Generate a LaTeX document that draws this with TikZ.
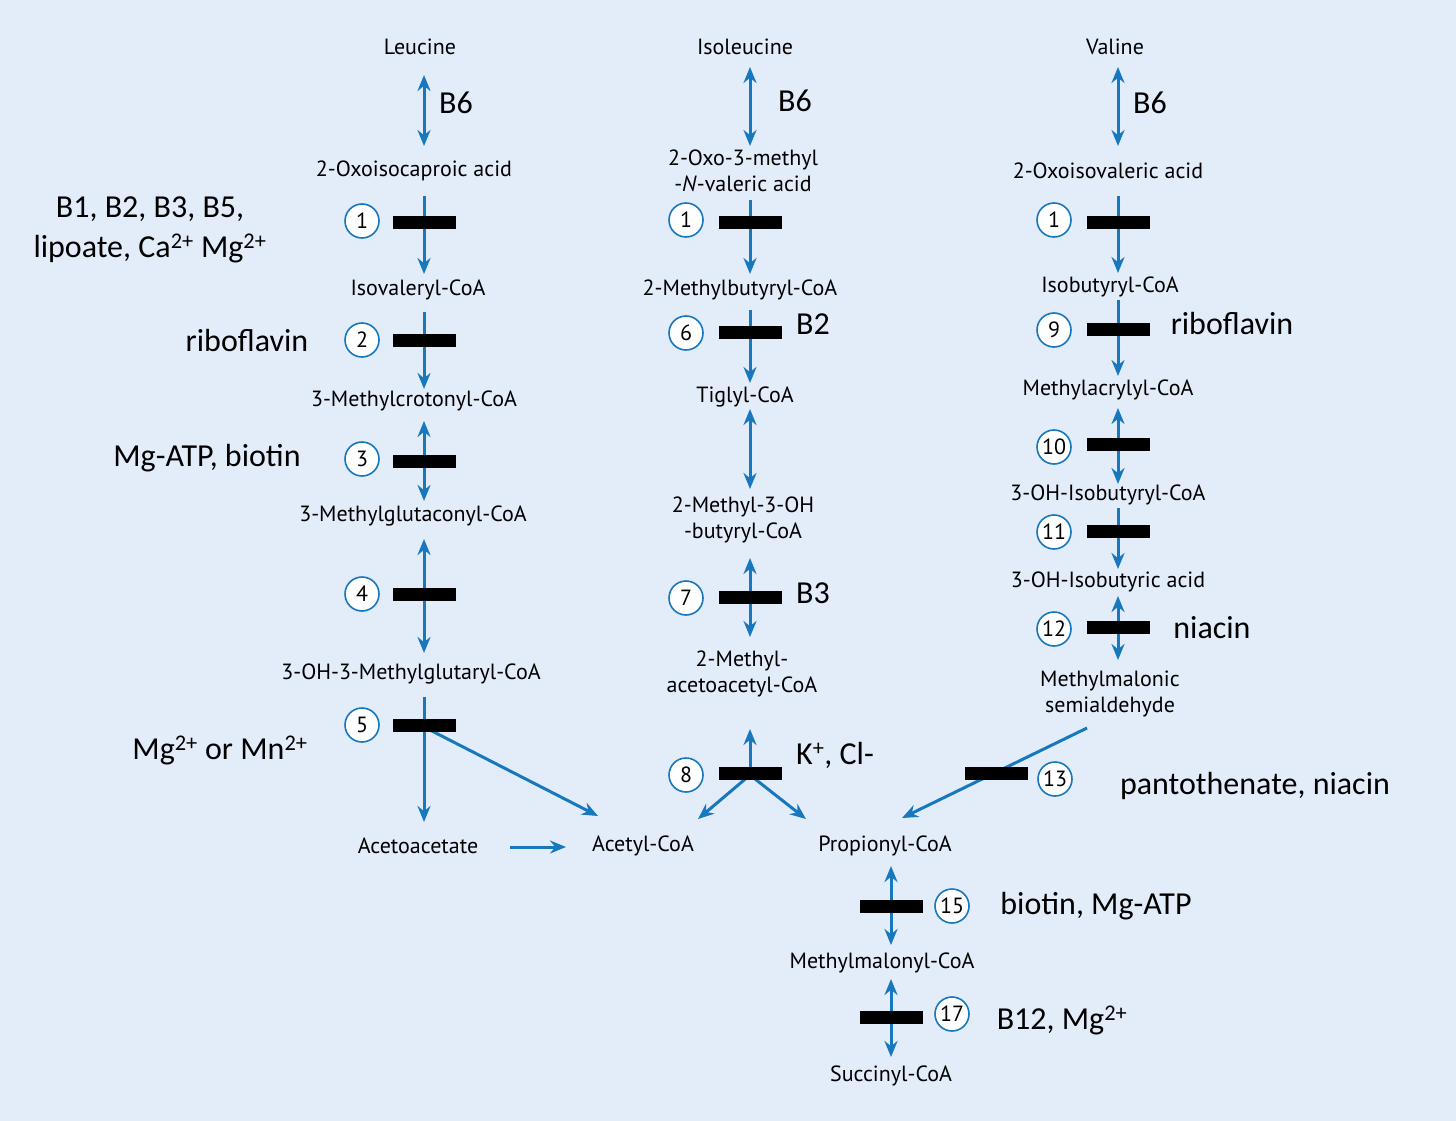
\documentclass[tikz,border=0pt]{standalone}
\usepackage{fontspec}
\setmainfont{PT Sans}
\newfontfamily\labfont{Carlito}
\usetikzlibrary{arrows.meta}
\definecolor{bg}{HTML}{E3ECF9}
\definecolor{ab}{HTML}{1878BE}
\begin{document}
\begin{tikzpicture}[x=1pt,y=-1pt,
 cmp/.style={font=\fontsize{22}{26}\selectfont,align=center,inner sep=2pt},
 lab/.style={font=\labfont\fontsize{32}{36}\selectfont,inner sep=0pt},
 num/.style={circle,draw=ab,line width=1.6pt,fill=white,minimum size=34pt,inner sep=0pt,font=\fontsize{22}{22}\selectfont},
 ar/.style={draw=ab,line width=3pt,-{Stealth[length=16pt,width=13pt]}},
 bi/.style={draw=ab,line width=3pt,{Stealth[length=16pt,width=13pt]}-{Stealth[length=16pt,width=13pt]}},
 bar/.style={fill=black,minimum width=63pt,minimum height=13pt,inner sep=0pt}]
\fill[bg] (0,0) rectangle (1456,1121);
\useasboundingbox (0,0) rectangle (1456,1121);
% compounds
\node[cmp] (leu) at (420,47) {Leucine};
\node[cmp] (ile) at (745,47) {Isoleucine};
\node[cmp] (val) at (1115,47) {Valine};
\node[cmp] (oic) at (414,171) {2-Oxoisocaproic acid};
\node[cmp] (omv) at (743,171) {2-Oxo-3-methyl\\-\textit{N}-valeric acid};
\node[cmp] (oiv) at (1108,171) {2-Oxoisovaleric acid};
\node[cmp] (ivc) at (418,290) {Isovaleryl-CoA};
\node[cmp] (mbc) at (740,290) {2-Methylbutyryl-CoA};
\node[cmp] (ibc) at (1110,287) {Isobutyryl-CoA};
\node[cmp] (mcc) at (414,401) {3-Methylcrotonyl-CoA};
\node[cmp] (tig) at (745,397) {Tiglyl-CoA};
\node[cmp] (mac) at (1108,390) {Methylacrylyl-CoA};
\node[cmp] (mgc) at (413,516) {3-Methylglutaconyl-CoA};
\node[cmp] (mhb) at (743,520) {2-Methyl-3-OH\\-butyryl-CoA};
\node[cmp] (hib) at (1108,495) {3-OH-Isobutyryl-CoA};
\node[cmp] (hia) at (1108,582) {3-OH-Isobutyric acid};
\node[cmp] (hmg) at (411,674) {3-OH-3-Methylglutaryl-CoA};
\node[cmp] (maa) at (742,674) {2-Methyl-\\acetoacetyl-CoA};
\node[cmp] (mms) at (1110,694) {Methylmalonic\\semialdehyde};
\node[cmp] (aca) at (418,846) {Acetoacetate};
\node[cmp] (acc) at (643,846) {Acetyl-CoA};
\node[cmp] (prc) at (885,846) {Propionyl-CoA};
\node[cmp] (mmc) at (882,963) {Methylmalonyl-CoA};
\node[cmp] (suc) at (891,1076) {Succinyl-CoA};
% arrows Leucine
\coordinate (a1) at (424,75); \coordinate (a2) at (424,146); \draw[bi] (a1) -- (a2);
\coordinate (a3) at (424,196); \coordinate (a4) at (424,274); \draw[ar] (a3) -- (a4);
\coordinate (a5) at (424,312); \coordinate (a6) at (424,389); \draw[ar] (a5) -- (a6);
\coordinate (a7) at (424,421); \coordinate (a8) at (424,501); \draw[bi] (a7) -- (a8);
\coordinate (a9) at (424,539); \coordinate (a10) at (424,653); \draw[bi] (a9) -- (a10);
\coordinate (a11) at (424,697); \coordinate (a12) at (424,822); \draw[ar] (a11) -- (a12);
\coordinate (h1) at (430,730); \coordinate (h2) at (598,816); \draw[ar] (h1) -- (h2);
\coordinate (e1) at (510,847); \coordinate (e2) at (566,847); \draw[ar] (e1) -- (e2);
% Isoleucine
\coordinate (b1) at (750,67); \coordinate (b2) at (750,146); \draw[bi] (b1) -- (b2);
\coordinate (b3) at (750,200); \coordinate (b4) at (750,274); \draw[ar] (b3) -- (b4);
\coordinate (b5) at (750,310); \coordinate (b6) at (750,383); \draw[ar] (b5) -- (b6);
\coordinate (b7) at (750,409); \coordinate (b8) at (750,489); \draw[bi] (b7) -- (b8);
\coordinate (b9) at (750,558); \coordinate (b10) at (750,637); \draw[bi] (b9) -- (b10);
\coordinate (c0) at (750,775); \coordinate (c1) at (750,729); \coordinate (c2) at (698,819); \coordinate (c3) at (806,819);
\draw[ar] (c0) -- (c1); \draw[ar] (c0) -- (c2); \draw[ar] (c0) -- (c3);
% Valine
\coordinate (d1) at (1118,67); \coordinate (d2) at (1118,146); \draw[bi] (d1) -- (d2);
\coordinate (d3) at (1118,196); \coordinate (d4) at (1118,273); \draw[ar] (d3) -- (d4);
\coordinate (d5) at (1118,300); \coordinate (d6) at (1118,376); \draw[ar] (d5) -- (d6);
\coordinate (d7) at (1118,408); \coordinate (d8) at (1118,484); \draw[bi] (d7) -- (d8);
\coordinate (d9) at (1118,508); \coordinate (d10) at (1118,569); \draw[ar] (d9) -- (d10);
\coordinate (d11) at (1118,596); \coordinate (d12) at (1118,660); \draw[bi] (d11) -- (d12);
\coordinate (m1) at (1087,728); \coordinate (m2) at (902,818); \draw[ar] (m1) -- (m2);
% Propionyl
\coordinate (p1) at (891,866); \coordinate (p2) at (891,945); \draw[bi] (p1) -- (p2);
\coordinate (p3) at (891,979); \coordinate (p4) at (891,1057); \draw[bi] (p3) -- (p4);
% bars
\foreach \n/\x/\y in {b1/424/222,b2/424/340,b3/424/461,b4/424/594,b5/424/725,
 b6/750/222,b7/750/332,b8/750/597,b9/750/773,
 b10/1118/222,b11/1118/329,b12/1118/444,b13/1118/531,b14/1118/627,b15/996/773,
 b16/891/906,b17/891/1017}
 \node[bar] (bar\n) at (\x,\y) {};
% circles
\foreach \n/\t/\x/\y in {n1/1/362/221,n2/2/362/340,n3/3/362/459,n4/4/362/594,n5/5/362/725,
 n6/1/686/220,n7/6/686/333,n8/7/686/598,n9/8/686/775,
 n10/1/1054/220,n11/9/1054/330,n12/10/1054/447,n13/11/1054/532,n14/12/1054/629,n15/13/1055/779,
 n16/15/952/906,n17/17/952/1014}
 \node[num] (\n) at (\x,\y) {\t};
% cofactor labels
\node[lab] (l1) at (456,103) {B6};
\node[lab] (l2) at (795,101) {B6};
\node[lab] (l3) at (1150,103) {B6};
\node[lab,align=center] (l4) at (150,230) {B1, B2, B3, B5,\\[4pt]lipoate, Ca\textsuperscript{2+} Mg\textsuperscript{2+}};
\node[lab] (l5) at (247,341) {riboflavin};
\node[lab] (l6) at (207,458) {Mg-ATP, biotin};
\node[lab] (l7) at (220,750) {Mg\textsuperscript{2+} or Mn\textsuperscript{2+}};
\node[lab] (l8) at (813,324) {B2};
\node[lab] (l9) at (813,593) {B3};
\node[lab] (l10) at (835,755) {K\textsuperscript{+}, Cl-};
\node[lab] (l11) at (1232,324) {riboflavin};
\node[lab] (l12) at (1212,628) {niacin};
\node[lab] (l13) at (1255,786) {pantothenate, niacin};
\node[lab] (l14) at (1096,906) {biotin, Mg-ATP};
\node[lab] (l15) at (1062,1020) {B12, Mg\textsuperscript{2+}};
\end{tikzpicture}
\end{document}
